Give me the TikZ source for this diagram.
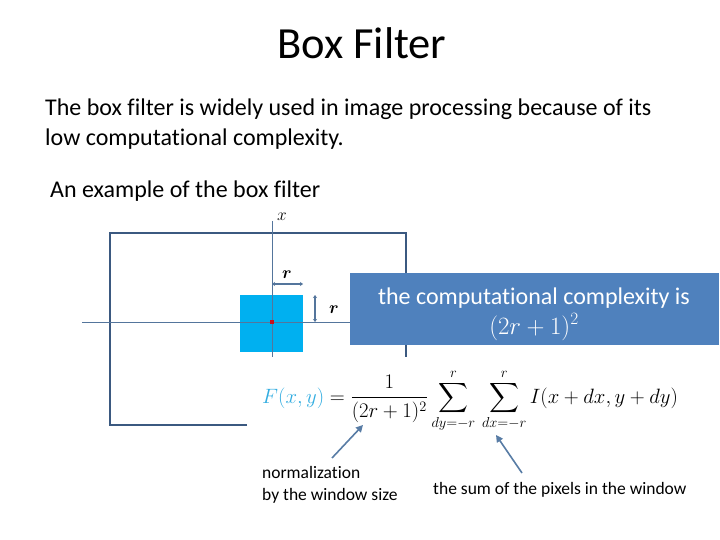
\documentclass[tikz,border=0pt]{standalone}
\usepackage[no-math]{fontspec}
\setmainfont{Carlito}[Ligatures=NoCommon]
\usepackage{amsmath}
\usetikzlibrary{arrows.meta,positioning}
\definecolor{cadre}{RGB}{59,89,128}
\definecolor{axe}{RGB}{84,117,156}
\definecolor{fleche}{RGB}{88,124,165}
\definecolor{fenetre}{RGB}{0,176,240}
\definecolor{boite}{RGB}{79,129,189}
\definecolor{formF}{RGB}{49,172,224}
\definecolor{centre}{RGB}{200,16,30}
\tikzset{
  texte/.style={anchor=base west, inner sep=0pt, font=\fontsize{24}{28}\selectfont},
  petit/.style={anchor=base west, inner sep=0pt, font=\fontsize{17.5}{22}\selectfont, align=left},
  cote/.style={axe, line width=1.2pt, {Stealth[length=3pt,width=4pt]}-{Stealth[length=3pt,width=4pt]}},
  renvoi/.style={fleche, line width=1.6pt, -{Triangle[length=7pt,width=7pt]}},
}

\begin{document}
\begin{tikzpicture}[x=1pt,y=-1pt]
    \useasboundingbox (0,0) rectangle (720,540);
    % Titre et texte
    \node[inner sep=0pt, anchor=base] (titre) at (362,59) {\fontsize{44.5}{48}\selectfont Box Filter};
    \node[texte] (intro1) at (45,116) {The box filter is widely used in image processing because of its};
    \node[texte] (intro2) at (45,146) {low computational complexity.};
    \node[texte] (exemple) at (50,198) {An example of the box filter};
    % Image
    \draw[cadre, line width=2.6pt] (247,425) -- (110,425) -- (110,233) -- (406,233) -- (406,357);
    % Axes
    \draw[axe, line width=0.8pt] (82,322) -- (350,322);
    \draw[axe, line width=0.8pt] (272,221) -- (272,357);
    \node[anchor=base, inner sep=0pt] (labx) at (282,221) {\fontsize{17}{17}\selectfont$x$};
    % Fenetre
    \fill[fenetre] (240,295) rectangle (303,352);
    \draw[axe, line width=0.8pt] (272,295) -- (272,352);
    \draw[axe, line width=0.8pt] (240,322) -- (303,322);
    \fill[centre] (270,320) rectangle (274,324);
    % Rayons
    \coordinate (h1) at (272,284);
    \coordinate (h2) at (303,284);
    \coordinate (v1) at (315,295);
    \coordinate (v2) at (315,322);
    \draw[cote] (h1) -- (h2);
    \draw[cote] (v1) -- (v2);
    \node[anchor=base, inner sep=0pt] (rh) at (287,278) {\fontsize{17}{17}\selectfont$\boldsymbol{r}$};
    \node[anchor=base, inner sep=0pt] (rv) at (334,313) {\fontsize{17}{17}\selectfont$\boldsymbol{r}$};
    % Complexite
    \node[fill=boite, minimum width=369pt, minimum height=72pt, anchor=north west] (cplx) at (350,273) {};
    \node[text=white, inner sep=0pt, anchor=base] (cplx1) at (534,304)
          {\fontsize{24}{28}\selectfont the computational complexity is};
    \node[text=white, inner sep=0pt, anchor=base] (cplx2) at (534,334)
          {\fontsize{26}{28}\selectfont $(2r+1)^2$};
    % Formule
    \node[inner sep=0pt, anchor=base west] (formule) at (262,403) {\fontsize{22}{22}\selectfont
      $\displaystyle \textcolor{formF}{F(x,y)} = \frac{1}{(2r+1)^2}\sum_{dy=-r}^{r}\,\sum_{dx=-r}^{r} I(x+dx,y+dy)$};
    % Legendes
    \node[petit] (norm) at (262,500) {normalization\\by the window size};
    \node[petit] (somme) at (433,494) {the sum of the pixels in the window};
    \coordinate (n1) at (332,458);
    \coordinate (n2) at (363,425);
    \coordinate (s1) at (522,473);
    \coordinate (s2) at (496,435);
    \draw[renvoi] (n1) -- (n2);
    \draw[renvoi] (s1) -- (s2);
\end{tikzpicture}
\end{document}
